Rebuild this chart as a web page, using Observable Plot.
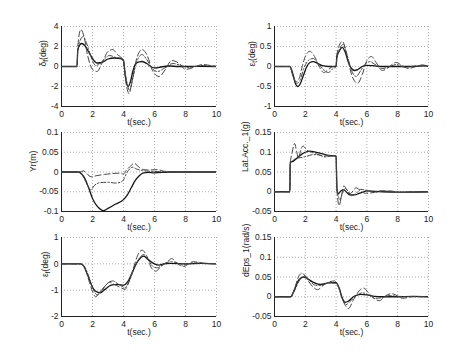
<!DOCTYPE html>
<html><head><meta charset="utf-8">
<script src="https://cdn.jsdelivr.net/npm/d3@7"></script>
<script src="https://cdn.jsdelivr.net/npm/@observablehq/plot@0.6"></script>
<style>
body{margin:0;background:#fff;}
#c{position:relative;width:474px;height:355px;overflow:hidden;background:#fff;}
#c svg{position:absolute;}
</style></head><body><div id="c"></div>
<script>
const xTicks = [0, 2, 4, 6, 8, 10];

// Panel 1: delta_f (deg)
const dfTicks = [-4, -2, 0, 2, 4];
const dfSolid = [[0,0],[1,0],[1.05,1.6],[1.15,2.1],[1.3,2.3],[1.5,2.1],[1.7,1.6],[2,0.8],[2.3,0.35],[2.6,0.4],[3,0.75],[3.4,0.85],[3.8,0.8],[4,0.6],[4.1,-0.8],[4.2,-1.7],[4.3,-2],[4.45,-1.5],[4.6,-0.5],[4.8,0.3],[5,0.45],[5.2,0.5],[5.5,0.3],[5.8,-0.05],[6.1,-0.15],[6.4,-0.05],[7,0.05],[7.5,0],[8,0],[9,0.02],[10,0]];
const dfDash = [[0,0],[1,0],[1.05,2],[1.25,3.7],[1.45,3],[1.7,1],[2,-0.3],[2.3,-0.5],[2.6,0.3],[3,1.5],[3.3,1.7],[3.6,1.2],[3.9,0.8],[4,0.5],[4.15,-1.5],[4.35,-2.7],[4.55,-1.5],[4.8,0.5],[5.2,1.7],[5.5,1.2],[5.9,-0.5],[6.3,-1],[6.7,-0.3],[7.1,0.6],[7.6,0.3],[8,-0.3],[8.5,-0.1],[9.1,0.2],[9.6,0.1],[10,0]];
const dfDot = [[0,0],[1,0],[1.05,1.5],[1.2,2.6],[1.4,3],[1.6,2.4],[1.9,1],[2.2,0.1],[2.5,0.3],[2.8,0.8],[3.1,1.1],[3.5,0.9],[3.9,0.8],[4,0.6],[4.15,-1],[4.4,-2.4],[4.6,-1.2],[4.8,0.2],[5.2,1.2],[5.5,0.7],[5.9,-0.3],[6.2,-0.5],[6.6,-0.2],[7.2,0.3],[7.7,0.1],[8.2,-0.1],[9,0.1],[10,0]];

// Panel 2: epsilon_t (deg)
const etTicks = [-1, -0.5, 0, 0.5, 1];
const etSolid = [[0,0],[1,0],[1.2,-0.2],[1.35,-0.42],[1.5,-0.5],[1.65,-0.45],[1.85,-0.25],[2.1,0],[2.3,0.1],[2.5,0.12],[2.8,0.08],[3.1,0.02],[3.5,0],[4,0],[4.05,0.25],[4.2,0.38],[4.4,0.48],[4.6,0.35],[4.8,0.1],[5,-0.05],[5.2,-0.1],[5.4,-0.08],[5.7,0],[6,0.03],[6.4,0.02],[7,0],[8,0],[9,0],[9.8,0.02],[10,0]];
const etDash = [[0,0],[1,0],[1.15,-0.15],[1.4,-0.38],[1.6,-0.3],[1.8,0],[2,0.25],[2.3,0.38],[2.6,0.25],[2.9,0],[3.2,-0.15],[3.5,-0.08],[3.8,0],[4,0],[4.05,0.3],[4.4,0.63],[4.7,0.3],[5,-0.2],[5.4,-0.42],[5.7,-0.2],[6,0.15],[6.3,0.25],[6.6,0.1],[7,-0.1],[7.3,-0.05],[7.9,0.1],[8.3,0.02],[8.7,-0.05],[9.2,0],[9.6,0.04],[10,0]];
const etDot = [[0,0],[1,0],[1.2,-0.25],[1.45,-0.42],[1.65,-0.35],[1.9,-0.05],[2.2,0.15],[2.5,0.2],[2.8,0.1],[3.1,-0.05],[3.5,-0.15],[3.8,-0.05],[4,0],[4.05,0.2],[4.45,0.55],[4.7,0.3],[5,-0.1],[5.3,-0.25],[5.6,-0.1],[6,0.1],[6.2,0.12],[6.6,0.03],[7,-0.05],[7.5,0],[7.9,0.05],[8.5,-0.02],[9.3,0.02],[10,0]];

// Panel 3: Yr (m)
const yrTicks = [-0.1, -0.05, 0, 0.05, 0.1];
const yrSolid = [[0,0],[1.1,0],[1.3,-0.005],[1.5,-0.016],[1.75,-0.04],[2,-0.067],[2.25,-0.084],[2.5,-0.094],[2.7,-0.098],[3,-0.092],[3.5,-0.081],[4,-0.07],[4.25,-0.058],[4.5,-0.04],[4.75,-0.022],[5,-0.01],[5.3,-0.002],[5.6,-0.001],[6,-0.002],[7,0],[10,0]];
const yrDash = [[0,0],[1.2,0],[1.4,0.003],[1.6,-0.003],[1.9,-0.012],[2.3,-0.009],[2.8,-0.006],[3.3,-0.004],[3.7,-0.003],[4,-0.005],[4.2,0.005],[4.45,0.015],[4.7,0.022],[5,0.012],[5.3,0.006],[5.7,0.005],[6.2,0.006],[6.6,0.002],[7.5,0],[10,0]];
const yrDot = [[0,0],[1.2,0],[1.45,-0.015],[1.7,-0.035],[1.9,-0.045],[2.1,-0.035],[2.5,-0.027],[3,-0.026],[3.5,-0.028],[3.8,-0.026],[4,-0.02],[4.2,-0.003],[4.4,0.008],[4.6,0.012],[4.8,0.008],[5.2,0.004],[5.6,0.002],[6.3,0.001],[7,0],[10,0]];

// Panel 4: Lat.Acc._1 (g)
const laTicks = [-0.05, 0, 0.05, 0.1, 0.15];
const laSolid = [[0,0],[1,0],[1.02,0.075],[1.2,0.077],[1.4,0.083],[1.6,0.09],[1.8,0.096],[2,0.1],[2.3,0.103],[2.6,0.101],[3,0.097],[3.4,0.093],[3.8,0.091],[4,0.091],[4.05,0.01],[4.15,-0.005],[4.3,0.002],[4.5,0.005],[4.7,-0.002],[4.9,-0.008],[5.2,-0.008],[5.5,-0.004],[5.8,0],[6,0.002],[6.5,0.001],[7,0],[8,-0.001],[10,0]];
const laDash = [[0,0],[1,0],[1.02,0.07],[1.15,0.1],[1.3,0.122],[1.45,0.1],[1.55,0.085],[1.7,0.105],[1.85,0.116],[2.1,0.105],[2.4,0.1],[2.8,0.095],[3.2,0.09],[3.6,0.092],[4,0.09],[4.05,0.005],[4.2,-0.035],[4.35,-0.01],[4.5,0.015],[4.7,0.005],[4.9,-0.005],[5.3,0.01],[5.6,0.002],[5.9,-0.004],[6.3,-0.003],[6.8,0.002],[7.5,0.002],[8.2,-0.002],[9,0],[10,0]];
const laDot = [[0,0],[1,0],[1.02,0.07],[1.2,0.08],[1.5,0.085],[1.8,0.087],[2.1,0.09],[2.5,0.094],[2.9,0.093],[3.3,0.088],[3.7,0.09],[4,0.09],[4.05,0.01],[4.25,-0.02],[4.4,-0.005],[4.6,0.008],[4.8,0],[5,-0.01],[5.3,-0.004],[5.6,0.006],[6,0.003],[6.5,-0.002],[7,0.002],[7.8,0],[8.5,-0.002],[10,0]];

// Panel 5: epsilon_f (deg)
const efTicks = [-2, -1, 0, 1];
const efSolid = [[0,0],[1.2,0],[1.4,-0.05],[1.6,-0.3],[1.8,-0.6],[2,-0.89],[2.2,-1.04],[2.5,-1.1],[2.8,-0.97],[3.2,-0.81],[3.6,-0.78],[4,-0.81],[4.3,-0.66],[4.6,-0.28],[4.8,-0.02],[5,0.16],[5.3,0.29],[5.6,0.16],[6,0],[6.3,-0.05],[6.6,0],[7,0.02],[8,0],[9,0.02],[10,0]];
const efDash = [[0,0],[1.2,0],[1.5,-0.15],[1.8,-0.7],[2,-1.05],[2.2,-1.25],[2.5,-1.05],[2.8,-0.85],[3.1,-0.7],[3.4,-0.78],[3.8,-0.9],[4.1,-0.97],[4.4,-0.6],[4.7,-0.05],[4.9,0.3],[5.2,0.52],[5.5,0.3],[5.8,-0.15],[6.1,-0.28],[6.4,-0.1],[6.8,0.05],[7.1,0.2],[7.5,0],[7.9,-0.1],[8.2,0],[8.5,0.08],[9.2,0.02],[10,0]];
const efDot = [[0,0],[1.2,0],[1.5,-0.12],[1.8,-0.55],[2,-0.9],[2.3,-1.18],[2.6,-1.02],[2.9,-0.78],[3.3,-0.65],[3.7,-0.78],[4.1,-0.9],[4.4,-0.62],[4.7,-0.15],[5,0.2],[5.3,0.35],[5.6,0.15],[5.9,-0.1],[6.2,-0.15],[6.6,0],[7,0.08],[7.4,0.05],[7.8,-0.05],[8.5,0.03],[10,0]];

// Panel 6: dEps_1 (rad/s)
const deTicks = [-0.05, 0, 0.05, 0.1, 0.15];
const deSolid = [[0,0],[1.05,0],[1.3,0.018],[1.6,0.044],[1.9,0.05],[2.2,0.044],[2.6,0.035],[3,0.031],[3.5,0.035],[4,0.036],[4.2,0.022],[4.4,-0.003],[4.6,-0.014],[4.8,-0.011],[5.2,0.002],[5.6,0.006],[6,0.005],[6.5,0.001],[7,0],[8,0],[9,0.001],[10,0]];
const deDash = [[0,0],[1.05,0],[1.3,0.02],[1.55,0.05],[1.8,0.06],[2.1,0.045],[2.5,0.025],[2.8,0.018],[3.2,0.03],[3.6,0.038],[3.9,0.04],[4.1,0.03],[4.4,-0.005],[4.6,-0.022],[4.8,-0.03],[5.1,-0.01],[5.5,0.015],[5.8,0.022],[6.1,0.01],[6.5,-0.005],[6.8,-0.01],[7.2,0.002],[7.6,0.008],[8,0.002],[8.3,-0.004],[9,0],[10,0]];
const deDot = [[0,0],[1.05,0],[1.3,0.015],[1.6,0.04],[2,0.052],[2.3,0.04],[2.6,0.03],[3,0.028],[3.5,0.035],[4,0.034],[4.2,0.02],[4.45,-0.01],[4.65,-0.02],[4.9,-0.012],[5.3,0.002],[5.7,0.01],[6.1,0.005],[6.5,-0.004],[7,-0.002],[7.5,0.003],[8,0.001],[10,0]];

const panels = [
  {col:0, top:26, h:80, domain:[-4,4], ticks:dfTicks, label:["δ","f","(deg)"], labX:43, series:[dfSolid, dfDash, dfDot]},
  {col:1, top:26, h:80, domain:[-1,1], ticks:etTicks, label:["ε","t","(deg)"], labX:252, series:[etSolid, etDash, etDot]},
  {col:0, top:132, h:79, domain:[-0.1,0.1], ticks:yrTicks, label:["Yr(m)"], labX:33, series:[yrSolid, yrDash, yrDot]},
  {col:1, top:132, h:79, domain:[-0.05,0.15], ticks:laTicks, label:["Lat.Acc._1(g)"], labX:245, series:[laSolid, laDash, laDot]},
  {col:0, top:237, h:79, domain:[-2,1], ticks:efTicks, label:["ε","f","(deg)"], labX:45, series:[efSolid, efDash, efDot]},
  {col:1, top:237, h:79, domain:[-0.05,0.15], ticks:deTicks, label:["dEps_1(rad/s)"], labX:246, series:[deSolid, deDash, deDot]}
];

const styles = [
  {stroke:"#151515", strokeWidth:1.3},
  {stroke:"#444", strokeWidth:1, strokeDasharray:"6,3"},
  {stroke:"#444", strokeWidth:1, strokeDasharray:"5,2,1.5,2"}
];

const font = "'Liberation Sans', Arial, Helvetica, sans-serif";
const container = document.getElementById("c");

panels.forEach((p, pi) => {
  const left = p.col === 0 ? 0 : 237;
  const ml = p.col === 0 ? 61 : 37;
  const mr = p.col === 0 ? 21 : 46;
  const mt = 6, mb = 30;
  const lines = p.series.map((s, i) => Plot.line(s, {x: d => d[0], y: d => d[1], curve: "monotone-x", clip: true, ...styles[i]}));
  const svg = Plot.plot({
    width: 237, height: mt + p.h + mb,
    marginLeft: ml, marginRight: mr, marginTop: mt, marginBottom: mb,
    style: {fontFamily: font, fontSize: "8.5px", color: "#222", background: "transparent", overflow: "visible"},
    x: {domain: [0, 10], ticks: xTicks, label: null},
    y: {domain: p.domain, ticks: p.ticks, label: null},
    marks: [
      Plot.gridX(xTicks, {stroke: "#999", strokeOpacity: 1, strokeDasharray: "1,2", strokeWidth: 0.8}),
      Plot.gridY(p.ticks, {stroke: "#999", strokeOpacity: 1, strokeDasharray: "1,2", strokeWidth: 0.8}),
      Plot.axisX(xTicks, {tickSize: 0, tickPadding: 4, label: null, tickFormat: d => String(d)}),
      Plot.axisY(p.ticks, {tickSize: 0, tickPadding: 3, label: null, tickFormat: d => String(d)}),
      Plot.ruleX([0], {stroke: "#222", strokeWidth: 1}),
      Plot.ruleY([p.domain[0]], {stroke: "#222", strokeWidth: 1}),
      ...lines,
      Plot.text(["t(sec.)"], {frameAnchor: "bottom", dy: 18, fill: "#222", fontSize: 8.5}),
      Plot.text([p.label.join("")], {frameAnchor: "left", rotate: -90, dx: (p.labX - left) - ml, fill: "#222", fontSize: 8.5, className: "ylab" + pi})
    ]
  });
  svg.style.left = left + "px";
  svg.style.top = (p.top - mt) + "px";
  container.appendChild(svg);
  if (p.label.length === 3) {
    const t = d3.select(svg).select(".ylab" + pi + " text");
    t.text(null);
    t.append("tspan").text(p.label[0]);
    t.append("tspan").attr("font-size", "6.5px").attr("dy", "0.3em").text(p.label[1]);
    t.append("tspan").attr("dy", "-0.3em").text(p.label[2]);
  }
});
</script></body></html>
